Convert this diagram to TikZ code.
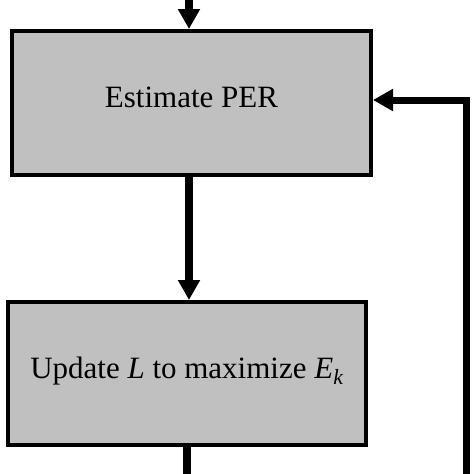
\documentclass[tikz,border=0pt]{standalone}
\usepackage{fontspec}
\setmainfont{Liberation Serif}
\usetikzlibrary{arrows.meta,calc}
\begin{document}
\begin{tikzpicture}[x=1pt,y=1pt,
  procbox/.style={draw=black,fill=boxgray,line width=4pt,rectangle,inner sep=0pt,
    font=\fontsize{31}{37}\selectfont},
  flow/.style={line width=8pt,-{Triangle[length=20pt,width=21pt]}},
  flowline/.style={line width=8pt}]
\definecolor{boxgray}{HTML}{C0C0C0}
\useasboundingbox (0,0) rectangle (474,-474);
\node[procbox,minimum width=359pt,minimum height=144pt] (est) at (191.5,-103)
  {\raisebox{-4pt}[0pt][0pt]{Estimate PER}};
\node[procbox,minimum width=358pt,minimum height=143pt] (upd) at (187,-373.5)
  {\raisebox{-4.5pt}[0pt][0pt]{Update \textit{L} to maximize \textit{E}\textsubscript{\textit{k}}}};
\coordinate (topin) at (189,0);
\coordinate (botout) at (187,-474);
\coordinate (rbot) at (466,-474);
\coordinate (rtop) at (466,-100);
\draw[flow] (topin) -- (topin |- est.north);
\draw[flow] (est.south -| topin) -- (topin |- upd.north);
\draw[flowline] (upd.south -| botout) -- (botout);
\draw[line width=7pt,-{Triangle[length=20pt,width=21pt]}] (rbot) -- (rtop) -- (rtop -| est.east);
\end{tikzpicture}
\end{document}
